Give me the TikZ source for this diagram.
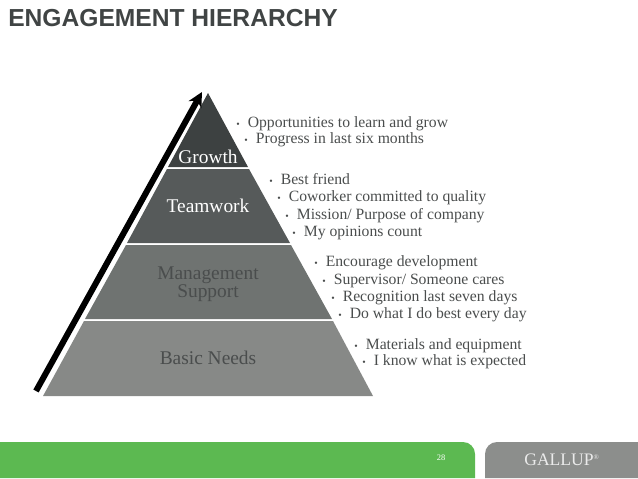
\documentclass[tikz,border=0pt]{standalone}
\usepackage{fontspec}
\setmainfont{Liberation Serif}
\newfontfamily\titlefont{Liberation Sans}
\usetikzlibrary{arrows.meta}
\definecolor{inkgrey}{HTML}{4A4D4D}
\definecolor{titlegrey}{HTML}{404444}
\definecolor{growthfill}{HTML}{3D4141}
\definecolor{teamfill}{HTML}{565A5A}
\definecolor{managefill}{HTML}{6F7371}
\definecolor{basicfill}{HTML}{878987}
\definecolor{footgreen}{HTML}{5CB951}
\definecolor{footgrey}{HTML}{8C8E8C}
\newcommand{\dotitem}{\makebox[8.2pt][l]{\scriptsize\textbullet}}
\tikzset{
  tier/.style={font=\fontsize{13.8}{12.8}\selectfont, inner sep=0pt, align=center},
  item/.style={anchor=base west, inner sep=0pt, text=inkgrey, font=\fontsize{11.15}{12}\selectfont},
}
\begin{document}
\begin{tikzpicture}[x=0.025cm,y=-0.025cm]
\useasboundingbox (0,0) rectangle (638,479);
% title
\node (title) at (8,27) [anchor=base west, inner sep=0pt, text=titlegrey, font=\titlefont\bfseries\fontsize{17.5}{20}\selectfont] {ENGAGEMENT HIERARCHY};
% pyramid
\fill[growthfill] (208,93) -- (248,167) -- (168,167) -- cycle;
\fill[teamfill] (167,169) -- (249,169) -- (290,243) -- (127,243) -- cycle;
\fill[managefill] (126,245) -- (291,245) -- (332,319) -- (85,319) -- cycle;
\fill[basicfill] (84,321) -- (333,321) -- (373,396) -- (43,396) -- cycle;
\node (growth) at (208,157) [tier, text=white] {Growth};
\node (team) at (208,206) [tier, text=white] {Teamwork};
\node (manage) at (208,284) [tier, text=inkgrey] {Management\\Support};
\node (basic) at (208,358) [tier, text=inkgrey] {Basic Needs};
% arrow
\coordinate (low) at (36,391);
\coordinate (high) at (202,92);
\draw[line width=0.15cm, -{Stealth[length=0.36cm,width=0.36cm]}] (low) -- (high);
% lists
\node (op) at (236,127) [item] {\dotitem Opportunities to learn and grow};
\node (pr) at (244,144) [item] {\dotitem Progress in last six months};
\node (be) at (269,184) [item] {\dotitem Best friend};
\node (co) at (277,201) [item] {\dotitem Coworker committed to quality};
\node (mi) at (285,219) [item] {\dotitem Mission/ Purpose of company};
\node (my) at (292,236) [item] {\dotitem My opinions count};
\node (en) at (314,266) [item] {\dotitem Encourage development};
\node (su) at (322,284) [item] {\dotitem Supervisor/ Someone cares};
\node (re) at (331,301) [item] {\dotitem Recognition last seven days};
\node (do) at (338,318) [item] {\dotitem Do what I do best every day};
\node (ma) at (354,349) [item] {\dotitem Materials and equipment};
\node (kn) at (362,365) [item] {\dotitem I know what is expected};
% footer
\fill[footgreen] (0,478) -- (0,442) -- (463,442) to[out=0,in=90] (475,454) -- (475,478) -- cycle;
\fill[footgrey] (485,478) -- (485,454) to[out=90,in=180] (497,442) -- (638,442) -- (638,478) -- cycle;
\node (page) at (441,458) [inner sep=0pt, text=white, font=\fontsize{6}{7}\selectfont] {28};
\node (logo) at (562,460) [inner sep=0pt, text=white!92!black, font=\fontsize{12.5}{14}\selectfont] {GALLUP\textsuperscript{\tiny ®}};
\end{tikzpicture}
\end{document}
